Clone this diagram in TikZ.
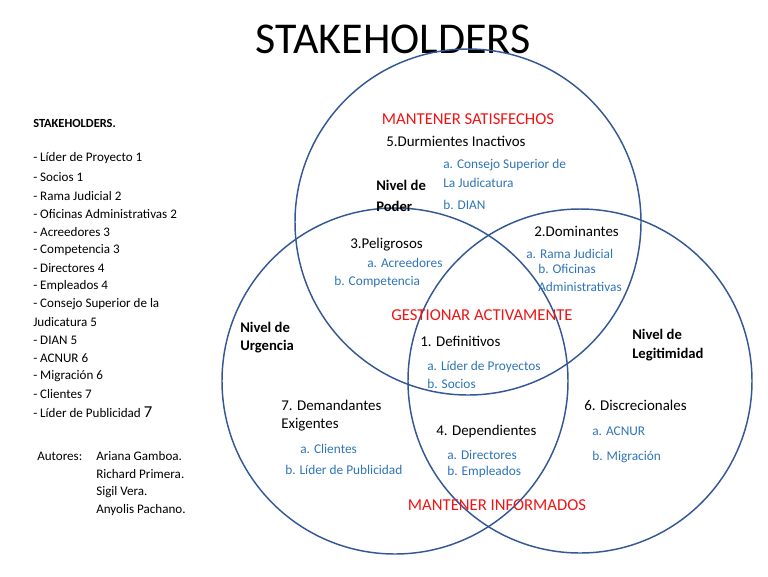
\documentclass[tikz,border=0pt]{standalone}
\usepackage{fontspec}
\setmainfont{Carlito}
\definecolor{circ}{RGB}{52,88,150}
\definecolor{bl}{RGB}{46,117,182}
\definecolor{rd}{RGB}{240,20,20}
\begin{document}
\begin{tikzpicture}[x=0.75pt,y=-0.75pt,
  t/.style={anchor=west,inner sep=0,font=\fontsize{11.2}{12}\selectfont},
  b/.style={t,text=bl,font=\fontsize{10}{11}\selectfont},
  bo/.style={t,font=\fontsize{11}{12}\selectfont\bfseries},
  r/.style={inner sep=0,text=rd,font=\fontsize{12.5}{13}\selectfont},
  li/.style={anchor=west,inner sep=0,font=\fontsize{9.8}{11}\selectfont},
  cc/.style={draw=circ,line width=1.1pt,circle,inner sep=0}]
\useasboundingbox (0,0) rectangle (768,576);
\node[inner sep=0,font=\fontsize{33}{38}\selectfont] (title) at (393,39) {STAKEHOLDERS};
\node[cc,minimum size=259.5pt] (top) at (468,222) {};
\node[cc,minimum size=259.5pt] (left) at (395,381) {};
\node[cc,minimum size=258pt] (right) at (580,381) {};
% legend
\node[li,font=\fontsize{9.3}{11}\selectfont\bfseries] (lh) at (33,123) {STAKEHOLDERS.};
\foreach \y/\s [count=\i] in {158/- Líder de Proyecto 1,177/- Socios 1,196/- Rama Judicial 2,214/- Oficinas Administrativas 2,232/- Acreedores 3,250/- Competencia 3,268/- Directores 4,286/- Empleados 4,304/- Consejo Superior de la,322/Judicatura 5,340/- DIAN 5,358/- ACNUR 6,376/- Migración 6,394/- Clientes 7}
  \node[li] (l\i) at (33,\y) {\s};
\node[li] (l15) at (33,412) {- Líder de Publicidad {\fontsize{12.5}{13}\selectfont 7}};
\node[li] (aut) at (37,456) {Autores:};
\node[li] (a1) at (96,456) {Ariana Gamboa.};
\node[li] (a2) at (96,474) {Richard Primera.};
\node[li] (a3) at (96,492) {Sigil Vera.};
\node[li] (a4) at (96,510) {Anyolis Pachano.};
% diagram texts
\node[r] (ms) at (468,119) {MANTENER SATISFECHOS};
\node[t] (d5) at (386,141) {5.Durmientes Inactivos};
\node[b] (d5a) at (443,165) {a. Consejo Superior de};
\node[b] (d5a2) at (443,183) {La Judicatura};
\node[b] (d5b) at (443,205) {b. DIAN};
\node[bo] (np1) at (376,185) {Nivel de};
\node[bo] (np2) at (376,206) {Poder};
\node[t] (d2) at (534,231) {2.Dominantes};
\node[b] (d2a) at (526,254) {a. Rama Judicial};
\node[b] (d2b) at (538,269) {b. Oficinas};
\node[b] (d2b2) at (538,287) {Administrativas};
\node[t] (d3) at (350,245) {3.Peligrosos};
\node[b] (d3a) at (367,263) {a. Acreedores};
\node[b] (d3b) at (334,282) {b. Competencia};
\node[r] (ga) at (482,315) {GESTIONAR ACTIVAMENTE};
\node[bo] (nu1) at (240,327) {Nivel de};
\node[bo] (nu2) at (240,347) {Urgencia};
\node[bo] (nl1) at (632,334) {Nivel de};
\node[bo] (nl2) at (632,355) {Legitimidad};
\node[t] (d1) at (420,341) {1. Definitivos};
\node[b] (d1a) at (427,367) {a. Líder de Proyectos};
\node[b] (d1b) at (427,384) {b. Socios};
\node[t] (d7) at (281,405) {7. Demandantes};
\node[t] (d7b) at (281,425) {Exigentes};
\node[b] (d7c) at (300,449) {a. Clientes};
\node[b] (d7d) at (285,470) {b. Líder de Publicidad};
\node[t] (d6) at (584,405) {6. Discrecionales};
\node[b] (d6a) at (592,431) {a. ACNUR};
\node[b] (d6b) at (592,457) {b. Migración};
\node[t] (d4) at (436,432) {4. Dependientes};
\node[b] (d4a) at (447,455) {a. Directores};
\node[b] (d4b) at (447,472) {b. Empleados};
\node[r] (mi) at (497,505) {MANTENER INFORMADOS};
\end{tikzpicture}
\end{document}
